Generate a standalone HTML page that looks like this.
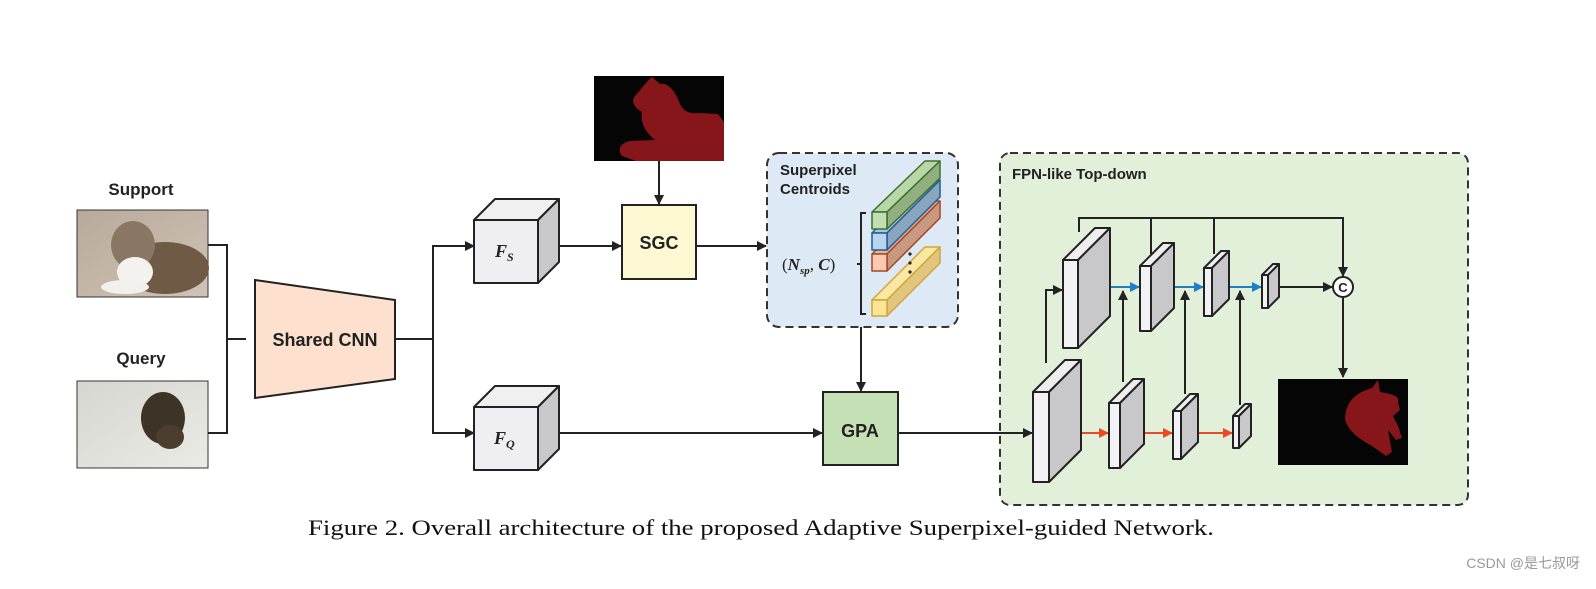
<!DOCTYPE html>
<html><head><meta charset="utf-8"><style>
html,body{margin:0;padding:0;background:#fff;}
svg{display:block;font-family:"Liberation Sans",Arial,sans-serif;}
</style></head><body>
<svg width="1596" height="589" viewBox="0 0 1596 589" xmlns="http://www.w3.org/2000/svg">
<defs>
<marker id="a" markerWidth="10" markerHeight="10" refX="9" refY="5" orient="auto" markerUnits="userSpaceOnUse"><path d="M0,0 L10,5 L0,10 z" fill="#222"/></marker>
<marker id="ab" markerWidth="10" markerHeight="10" refX="9" refY="5" orient="auto" markerUnits="userSpaceOnUse"><path d="M0,0 L10,5 L0,10 z" fill="#1e7fc4"/></marker>
<marker id="ar" markerWidth="10" markerHeight="10" refX="9" refY="5" orient="auto" markerUnits="userSpaceOnUse"><path d="M0,0 L10,5 L0,10 z" fill="#ea4a2a"/></marker>
<linearGradient id="sbg" x1="0" y1="0" x2="1" y2="1"><stop offset="0" stop-color="#b8aa9a"/><stop offset="1" stop-color="#cfc3b6"/></linearGradient>
<linearGradient id="qbg" x1="0" y1="0" x2="1" y2="1"><stop offset="0" stop-color="#d6d6d0"/><stop offset="1" stop-color="#ebebe6"/></linearGradient>
</defs>

<text x="141" y="195" font-size="17" font-weight="bold" text-anchor="middle" fill="#222">Support</text>
<rect x="77" y="210" width="131" height="87" fill="url(#sbg)" stroke="#333" stroke-width="1"/>
<ellipse cx="165" cy="268" rx="44" ry="26" fill="#6e5a45"/>
<ellipse cx="133" cy="245" rx="22" ry="24" fill="#8a7763"/>
<ellipse cx="135" cy="272" rx="18" ry="15" fill="#f4f2ee"/>
<ellipse cx="125" cy="287" rx="24" ry="7" fill="#f2f0ec"/>
<text x="141" y="364" font-size="17" font-weight="bold" text-anchor="middle" fill="#222">Query</text>
<rect x="77" y="381" width="131" height="87" fill="url(#qbg)" stroke="#333" stroke-width="1"/>
<ellipse cx="163" cy="418" rx="22" ry="26" fill="#3e3327"/>
<ellipse cx="170" cy="437" rx="14" ry="12" fill="#4c3d2e"/>

<g stroke="#222" stroke-width="2" fill="none">
<polyline points="208,245 227,245 227,433 208,433"/>
<line x1="227" y1="339" x2="246" y2="339"/>
<polyline points="395,339 433,339"/>
<polyline points="474,246 433,246 433,433 474,433" marker-end="url(#a)"/>
<line x1="433" y1="246" x2="474" y2="246" marker-end="url(#a)"/>
</g>
<polygon points="255,280 395,300 395,379 255,398" fill="#fde0cd" stroke="#222" stroke-width="2"/>
<text x="325" y="346" font-size="18" font-weight="bold" text-anchor="middle" fill="#222">Shared CNN</text>

<g stroke="#222" stroke-width="2" stroke-linejoin="round">
<polygon points="474,220 495,199 559,199 538,220" fill="#f0f0f0"/>
<polygon points="538,220 559,199 559,262 538,283" fill="#c8c8ca"/>
<rect x="474" y="220" width="64" height="63" fill="#efeff1"/>
<polygon points="474,407 495,386 559,386 538,407" fill="#f0f0f0"/>
<polygon points="538,407 559,386 559,449 538,470" fill="#c8c8ca"/>
<rect x="474" y="407" width="64" height="63" fill="#efeff1"/>
</g>
<text x="495" y="257" font-family="Liberation Serif,serif" font-style="italic" font-weight="bold" font-size="18" fill="#222">F<tspan font-size="12" dy="4">S</tspan></text>
<text x="494" y="444" font-family="Liberation Serif,serif" font-style="italic" font-weight="bold" font-size="18" fill="#222">F<tspan font-size="12" dy="4">Q</tspan></text>

<rect x="594" y="76" width="130" height="85" fill="#050505"/>
<path d="M636,161 L622,156 C617,150 620,143 630,141 L655,140 C645,132 640,122 642,112 C634,108 630,100 636,95 C642,88 646,82 652,77 L660,84 C668,82 676,92 680,104 C684,112 690,114 700,113 L718,114 L724,122 L724,161 Z" fill="#861619"/>

<g stroke="#222" stroke-width="2" fill="none">
<line x1="659" y1="161" x2="659" y2="204" marker-end="url(#a)"/>
<line x1="559" y1="246" x2="621" y2="246" marker-end="url(#a)"/>
<line x1="696" y1="246" x2="766" y2="246" marker-end="url(#a)"/>
<line x1="861" y1="327" x2="861" y2="391" marker-end="url(#a)"/>
<line x1="559" y1="433" x2="822" y2="433" marker-end="url(#a)"/>
</g>
<rect x="622" y="205" width="74" height="74" fill="#fbf8d2" stroke="#222" stroke-width="2"/>
<text x="659" y="249" font-size="18" font-weight="bold" text-anchor="middle" fill="#222">SGC</text>

<rect x="767" y="153" width="191" height="174" rx="12" fill="#dde9f5" stroke="#333" stroke-width="2" stroke-dasharray="8,5"/>
<text x="780" y="175" font-size="15" font-weight="bold" fill="#222">Superpixel</text>
<text x="780" y="194" font-size="15" font-weight="bold" fill="#222">Centroids</text>
<text x="782" y="270" font-family="Liberation Serif,serif" font-size="17" fill="#222">(<tspan font-style="italic" font-weight="bold">N</tspan><tspan font-style="italic" font-weight="bold" font-size="11" dy="4">sp</tspan><tspan dy="-4">, </tspan><tspan font-style="italic" font-weight="bold">C</tspan>)</text>
<polyline points="866,213 861,213 861,314 866,314" fill="none" stroke="#222" stroke-width="2"/>
<line x1="857" y1="264" x2="861" y2="264" stroke="#222" stroke-width="2"/>
<g stroke-width="1.5" stroke-linejoin="round">
<polygon points="872,300 925,247 940,247 887,300" fill="#fae7a4" stroke="#d4a436"/>
<polygon points="887,300 940,247 940,263 887,316" fill="#e0c67f" stroke="#d4a436"/>
<rect x="872" y="300" width="15" height="16" fill="#fde596" stroke="#d4a436"/>
<polygon points="872,254 925,201 940,201 887,254" fill="#e8b29a" stroke="#a6472a"/>
<polygon points="887,254 940,201 940,218 887,271" fill="#c99880" stroke="#a6472a"/>
<rect x="872" y="254" width="15" height="17" fill="#fbc9af" stroke="#a6472a"/>
<polygon points="872,233 925,180 940,180 887,233" fill="#aac6e0" stroke="#1f5f8f"/>
<polygon points="887,233 940,180 940,197 887,250" fill="#8aa5bf" stroke="#1f5f8f"/>
<rect x="872" y="233" width="15" height="17" fill="#b8d6ee" stroke="#1f5f8f"/>
<polygon points="872,212 925,161 940,161 887,212" fill="#b9d6a7" stroke="#3e6f2f"/>
<polygon points="887,212 940,161 940,178 887,229" fill="#92b07f" stroke="#3e6f2f"/>
<rect x="872" y="212" width="15" height="17" fill="#c2deb0" stroke="#3e6f2f"/>
</g>
<circle cx="910" cy="254" r="1.6" fill="#222"/><circle cx="910" cy="263" r="1.6" fill="#222"/><circle cx="910" cy="272" r="1.6" fill="#222"/>

<rect x="823" y="392" width="75" height="73" fill="#c5e0b5" stroke="#222" stroke-width="2"/>
<text x="860" y="437" font-size="18" font-weight="bold" text-anchor="middle" fill="#222">GPA</text>

<rect x="1000" y="153" width="468" height="352" rx="10" fill="#e2efd9" stroke="#333" stroke-width="2" stroke-dasharray="8,5"/>
<text x="1012" y="179" font-size="15" font-weight="bold" fill="#222">FPN-like Top-down</text>
<line x1="898" y1="433" x2="1032" y2="433" stroke="#222" stroke-width="2" marker-end="url(#a)"/>

<g stroke="#222" stroke-width="2" fill="none">
<polyline points="1079,232 1079,218 1343,218 1343,276" marker-end="url(#a)"/>
<line x1="1151" y1="218" x2="1151" y2="254"/>
<line x1="1214" y1="218" x2="1214" y2="254"/>
<line x1="1123" y1="382" x2="1123" y2="291" marker-end="url(#a)"/>
<line x1="1185" y1="394" x2="1185" y2="291" marker-end="url(#a)"/>
<line x1="1240" y1="405" x2="1240" y2="291" marker-end="url(#a)"/>
<polyline points="1046,363 1046,290 1062,290" marker-end="url(#a)"/>
<line x1="1280" y1="287" x2="1332" y2="287" marker-end="url(#a)"/>
<line x1="1343" y1="297" x2="1343" y2="377" marker-end="url(#a)"/>
</g>
<g stroke-width="2" fill="none">
<line x1="1110" y1="287" x2="1139" y2="287" stroke="#1e7fc4" marker-end="url(#ab)"/>
<line x1="1174" y1="287" x2="1203" y2="287" stroke="#1e7fc4" marker-end="url(#ab)"/>
<line x1="1230" y1="287" x2="1261" y2="287" stroke="#1e7fc4" marker-end="url(#ab)"/>
<line x1="1081" y1="433" x2="1108" y2="433" stroke="#ea4a2a" marker-end="url(#ar)"/>
<line x1="1144" y1="433" x2="1172" y2="433" stroke="#ea4a2a" marker-end="url(#ar)"/>
<line x1="1198" y1="433" x2="1232" y2="433" stroke="#ea4a2a" marker-end="url(#ar)"/>
</g>

<g stroke="#222" stroke-width="2" stroke-linejoin="round">
<polygon points="1063,260 1095,228 1110,228 1078,260" fill="#eee"/><polygon points="1078,260 1110,228 1110,316 1078,348" fill="#c8c8ca"/><rect x="1063" y="260" width="15" height="88" fill="#f2f2f4"/>
<polygon points="1140,266 1163,243 1174,243 1151,266" fill="#eee"/><polygon points="1151,266 1174,243 1174,308 1151,331" fill="#c8c8ca"/><rect x="1140" y="266" width="11" height="65" fill="#f2f2f4"/>
<polygon points="1204,268 1221,251 1229,251 1212,268" fill="#eee"/><polygon points="1212,268 1229,251 1229,299 1212,316" fill="#c8c8ca"/><rect x="1204" y="268" width="8" height="48" fill="#f2f2f4"/>
<polygon points="1262,275 1273,264 1279,264 1268,275" fill="#eee"/><polygon points="1268,275 1279,264 1279,297 1268,308" fill="#c8c8ca"/><rect x="1262" y="275" width="6" height="33" fill="#f2f2f4"/>
<polygon points="1033,392 1065,360 1081,360 1049,392" fill="#eee"/><polygon points="1049,392 1081,360 1081,450 1049,482" fill="#c8c8ca"/><rect x="1033" y="392" width="16" height="90" fill="#f2f2f4"/>
<polygon points="1109,403 1133,379 1144,379 1120,403" fill="#eee"/><polygon points="1120,403 1144,379 1144,444 1120,468" fill="#c8c8ca"/><rect x="1109" y="403" width="11" height="65" fill="#f2f2f4"/>
<polygon points="1173,411 1190,394 1198,394 1181,411" fill="#eee"/><polygon points="1181,411 1198,394 1198,442 1181,459" fill="#c8c8ca"/><rect x="1173" y="411" width="8" height="48" fill="#f2f2f4"/>
<polygon points="1233,416 1245,404 1251,404 1239,416" fill="#eee"/><polygon points="1239,416 1251,404 1251,436 1239,448" fill="#c8c8ca"/><rect x="1233" y="416" width="6" height="32" fill="#f2f2f4"/>
</g>
<circle cx="1343" cy="287" r="10" fill="#fff" stroke="#222" stroke-width="2"/>
<text x="1343" y="292" font-size="13" font-weight="bold" text-anchor="middle" fill="#222">C</text>

<rect x="1278" y="379" width="130" height="86" fill="#050505"/>
<path d="M1345,420 C1345,400 1358,392 1372,388 L1378,380 L1380,392 C1392,394 1400,396 1398,402 L1400,410 L1393,416 L1398,426 L1402,438 L1396,440 L1388,430 L1392,452 L1386,456 L1372,446 C1362,440 1350,434 1345,420 Z" fill="#861619"/>

<text x="308" y="535" font-family="Liberation Serif,serif" font-size="22" fill="#111" textLength="906" lengthAdjust="spacingAndGlyphs">Figure 2. Overall architecture of the proposed Adaptive Superpixel-guided Network.</text>
<text x="1580" y="568" font-family="Liberation Sans,'Noto Sans CJK SC',sans-serif" font-size="14" fill="#999" text-anchor="end">CSDN @是七叔呀</text>
</svg>
</body></html>
